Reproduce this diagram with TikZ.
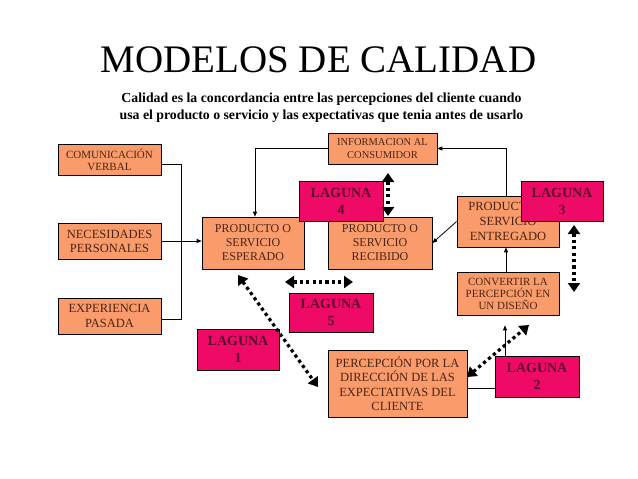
\documentclass[tikz,border=0pt]{standalone}
\usepackage{fontspec}
\setmainfont{Liberation Serif}
\usetikzlibrary{arrows.meta}
\definecolor{orf}{HTML}{F99B6B}
\definecolor{mag}{HTML}{EE0A66}
\definecolor{otx}{HTML}{4A2414}
\definecolor{mtx}{HTML}{5A0A2A}
\tikzset{
  obox/.style={draw=black, line width=0.7pt, fill=orf, text=otx, align=center, inner sep=0pt},
  lbox/.style={draw=black, line width=0.7pt, fill=mag, text=mtx, align=center, inner sep=0pt,
     font=\fontsize{14}{17}\selectfont\bfseries},
  conn/.style={line width=0.8pt, -{Triangle[length=5pt,width=4pt]}},
  plain/.style={line width=0.8pt},
  dbl/.style={line width=3.2pt, dash pattern=on 3.2pt off 3.2pt,
     {Triangle[length=9pt,width=12pt]}-{Triangle[length=9pt,width=12pt]}},
}
\begin{document}
\begin{tikzpicture}[x=1pt,y=-1pt]
\useasboundingbox[fill=white] (0,0) rectangle (638,479);
% titles
\node[anchor=base, font=\fontsize{39}{42}\selectfont] (title) at (318.5,72) {MODELOS DE CALIDAD};
\node[anchor=base, font=\fontsize{13.8}{15}\selectfont\bfseries] (sub1) at (321.5,102) {Calidad es la concordancia entre las percepciones del cliente cuando};
\node[anchor=base, font=\fontsize{13.8}{15}\selectfont\bfseries] (sub2) at (321.5,119) {usa el producto o servicio y las expectativas que tenia antes de usarlo};
% orange boxes
\node[obox, minimum width=103pt, minimum height=31pt, font=\fontsize{11}{12}\selectfont] (com) at (109.5,159.5) {COMUNICACIÓN\\VERBAL};
\node[obox, minimum width=103pt, minimum height=36pt, font=\fontsize{12.5}{14}\selectfont] (nec) at (109.5,241) {NECESIDADES\\PERSONALES};
\node[obox, minimum width=103pt, minimum height=36pt, font=\fontsize{12.5}{14.5}\selectfont] (exp) at (109.5,316) {EXPERIENCIA\\PASADA};
\node[obox, minimum width=102pt, minimum height=52pt, font=\fontsize{12}{14}\selectfont] (esp) at (253,243) {PRODUCTO O\\SERVICIO\\ESPERADO};
\node[obox, minimum width=104pt, minimum height=52pt, font=\fontsize{12}{14}\selectfont] (rec) at (380,243) {PRODUCTO O\\SERVICIO\\RECIBIDO};
\node[obox, minimum width=109pt, minimum height=31pt, font=\fontsize{10.5}{13}\selectfont] (info) at (382.5,148.5) {INFORMACION AL\\CONSUMIDOR};
\node[obox, minimum width=102pt, minimum height=51pt, font=\fontsize{12.5}{15}\selectfont] (ent) at (508,221.5) {PRODUCTO O\\SERVICIO\\ENTREGADO};
\node[obox, minimum width=102pt, minimum height=43pt, font=\fontsize{11}{12}\selectfont] (conv) at (508,293.5) {CONVERTIR LA\\PERCEPCIÓN EN\\UN DISEÑO};
\node[obox, minimum width=139pt, minimum height=67pt, font=\fontsize{12.5}{14.5}\selectfont] (perc) at (397.5,383.5) {PERCEPCIÓN POR LA\\DIRECCIÓN DE LAS\\EXPECTATIVAS DEL\\CLIENTE};
% thin connectors
\coordinate (bt) at (181,164);
\coordinate (bb) at (181,319);
\draw[plain] (com.east |- bt) -- (bt) -- (bb) -- (exp.east |- bb);
\draw[conn] (nec.east) -- (esp.west |- nec.east);
\draw[conn] (info.west) -| ([xshift=2pt]esp.north);
\draw[conn] ([xshift=-2pt]ent.north) |- (info.east);
\draw[conn] (ent.west) -- (rec.east);
\draw[conn] ([xshift=-2pt]conv.north) -- ([xshift=-2pt]ent.south);
\coordinate (p2) at (505,388);
\draw[plain] (perc.east |- p2) -- (p2);
\draw[conn, shorten >=10pt] (p2) -- (p2 |- conv.south);
% laguna boxes
\node[lbox, minimum width=84pt, minimum height=40pt] (lag4) at (341,201) {LAGUNA\\4};
\node[lbox, minimum width=84pt, minimum height=39pt] (lag5) at (331,312.5) {LAGUNA\\5};
\node[lbox, minimum width=82pt, minimum height=40pt] (lag3) at (562,201) {LAGUNA\\3};
\node[lbox, minimum width=82pt, minimum height=41pt] (lag1) at (238,349.5) {LAGUNA\\1};
\node[lbox, minimum width=84pt, minimum height=41pt] (lag2) at (537,376.5) {LAGUNA\\2};
% dotted double arrows
\coordinate (d4a) at (388,173); \coordinate (d4b) at (388,216);
\coordinate (d5a) at (285,282); \coordinate (d5b) at (353,282);
\coordinate (d3a) at (574,225); \coordinate (d3b) at (574,292);
\coordinate (d1a) at (238,275); \coordinate (d1b) at (318,387);
\coordinate (d2a) at (467,377); \coordinate (d2b) at (529,325);
\draw[dbl] (d4a) -- (d4b);
\draw[dbl] (d5a) -- (d5b);
\draw[dbl] (d3a) -- (d3b);
\draw[dbl] (d1a) -- (d1b);
\draw[dbl] (d2a) -- (d2b);
\end{tikzpicture}
\end{document}
